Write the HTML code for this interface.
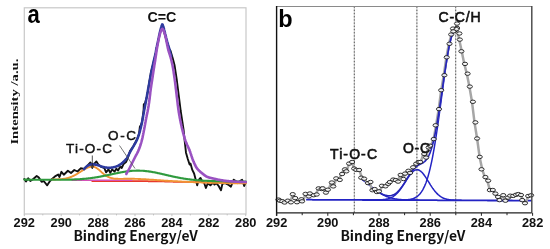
<!DOCTYPE html>
<html><head><meta charset="utf-8"><style>
html,body{margin:0;padding:0;background:#fff;width:550px;height:249px;overflow:hidden}
svg{display:block}
</style></head><body>
<svg width="550" height="249" viewBox="0 0 550 249">
<rect width="550" height="249" fill="#fff"/>
<rect x="24.3" y="7.8" width="221.7" height="206.2" fill="none" stroke="#c8c8c8" stroke-width="1.2"/>
<g stroke="#c0c0c0" stroke-width="1"><line x1="24.3" y1="214.0" x2="24.3" y2="216.2"/><line x1="42.8" y1="214.0" x2="42.8" y2="215.4"/><line x1="61.2" y1="214.0" x2="61.2" y2="216.2"/><line x1="79.6" y1="214.0" x2="79.6" y2="215.4"/><line x1="98.1" y1="214.0" x2="98.1" y2="216.2"/><line x1="116.5" y1="214.0" x2="116.5" y2="215.4"/><line x1="135.0" y1="214.0" x2="135.0" y2="216.2"/><line x1="153.5" y1="214.0" x2="153.5" y2="215.4"/><line x1="171.9" y1="214.0" x2="171.9" y2="216.2"/><line x1="190.3" y1="214.0" x2="190.3" y2="215.4"/><line x1="208.8" y1="214.0" x2="208.8" y2="216.2"/><line x1="227.2" y1="214.0" x2="227.2" y2="215.4"/><line x1="245.7" y1="214.0" x2="245.7" y2="216.2"/></g>
<g fill="none" stroke-linejoin="round" stroke-linecap="round">
<path d="M24.3,179.0 L26.0,181.5 L28.2,178.3 L30.3,181.0 L32.4,179.7 L36.7,176.0 L38.8,177.6 L41.6,181.8 L43.7,181.0 L47.2,185.3 L50.0,181.0 L52.1,179.0 L55.0,176.4 L58.2,174.5 L59.5,177.0 L61.4,171.8 L63.8,174.7 L67.9,170.7 L71.0,173.0 L74.3,170.0 L77.5,171.5 L80.7,168.3 L84.0,169.0 L87.2,165.9 L90.4,162.5 L92.3,165.5 L94.6,163.3 L96.4,161.4 L98.3,164.5 L101.3,166.9 L104.3,168.0 L106.1,172.3 L108.5,169.3 L110.3,172.9 L112.1,169.3 L114.5,171.7 L116.3,168.7 L118.1,170.5 L120.0,166.9 L121.7,168.0 L123.6,163.9 L126.0,162.0 L128.0,157.5 L130.0,151.0 L133.5,146.0 L136.9,139.5 L139.1,133.5 L139.9,126.5 L141.0,125.0 L142.1,121.5 L143.6,110.0 L143.8,104.5 L145.0,103.2 L146.1,99.5 L147.1,95.5 L149.1,83.5 L151.1,71.5 L153.5,62.5 L155.4,55.0 L156.6,48.0 L158.2,41.0 L159.5,35.0 L160.8,30.0 L162.2,27.0 L163.6,30.5 L165.2,35.8 L166.8,42.0 L168.8,48.5 L170.4,50.5 L172.8,58.5 L174.5,65.0 L176.8,80.0 L178.7,95.0 L180.7,111.0 L182.3,121.5 L183.6,130.0 L184.8,142.0 L186.0,152.7 L187.8,159.0 L189.6,164.5 L190.5,163.6 L192.3,169.9 L194.1,173.5 L196.0,180.7 L197.2,185.3 L198.7,179.8 L200.5,178.0 L202.3,181.6 L204.0,182.5 L205.9,188.0 L207.7,183.5 L210.4,185.3 L213.1,182.5 L214.5,184.6 L216.1,183.2 L218.2,185.3 L221.0,190.2 L222.4,183.9 L225.2,183.2 L228.1,184.6 L230.9,186.7 L233.7,179.7 L235.8,181.1 L237.9,183.2 L240.0,181.1 L242.1,179.7 L244.2,186.0 L245.6,182.5" stroke="#111" stroke-width="1.9"/>
<path d="M92.3,181.2 L92.8,181.2 L93.3,181.2 L93.8,181.2 L94.3,181.2 L94.8,181.2 L95.3,181.2 L95.8,181.2 L96.3,181.2 L96.8,181.2 L97.3,181.2 L97.8,181.2 L98.3,181.2 L98.8,181.2 L99.3,181.2 L99.8,181.2 L100.3,181.2 L100.8,181.2 L101.3,181.2 L101.8,181.2 L102.3,181.2 L102.8,181.2 L103.3,181.2 L103.8,181.2 L104.3,181.2 L104.8,181.2 L105.3,181.2 L105.8,181.2 L106.3,181.2 L106.8,181.2 L107.3,181.2 L107.8,181.2 L108.3,181.2 L108.8,181.2 L109.3,181.2 L109.8,181.2 L110.3,181.2 L110.8,181.2 L111.3,181.2 L111.8,181.2 L112.3,181.2 L112.8,181.2 L113.3,181.2 L113.8,181.2 L114.3,181.2 L114.8,181.2 L115.3,181.2 L115.8,181.2 L116.3,181.2 L116.8,181.2 L117.3,181.2 L117.8,181.2 L118.3,181.2 L118.8,181.2 L119.3,181.2 L119.8,181.2 L120.3,181.2 L120.8,181.2 L121.3,181.2 L121.8,181.2 L122.3,181.2 L122.8,181.2 L123.3,181.2 L123.8,181.2 L124.3,181.2 L124.8,181.2 L125.3,181.2 L125.8,181.2 L126.3,181.2 L126.8,181.2 L127.3,181.2 L127.8,181.2 L128.3,181.2 L128.8,181.2 L129.3,181.2 L129.8,181.2 L130.3,181.2 L130.8,181.2 L131.3,181.2 L131.8,181.2 L132.3,181.2 L132.8,181.2 L133.3,181.2 L133.8,181.2 L134.3,181.2 L134.8,181.2 L135.3,181.2 L135.8,181.2 L136.3,181.2 L136.8,181.2 L137.3,181.2 L137.8,181.2 L138.3,181.2 L138.8,181.2 L139.3,181.2 L139.8,181.2 L140.3,181.2 L140.8,181.2 L141.3,181.2 L141.8,181.2 L142.3,181.2 L142.8,181.2 L143.3,181.2 L143.8,181.2 L144.3,181.2 L144.8,181.2 L145.3,181.2 L145.8,181.2 L146.3,181.2 L146.8,181.2 L147.3,181.2 L147.8,181.2 L148.3,181.3 L148.8,181.3 L149.3,181.3 L149.8,181.3 L150.3,181.3 L150.8,181.3 L151.3,181.3 L151.8,181.3 L152.3,181.3 L152.8,181.3 L153.3,181.3 L153.8,181.3 L154.3,181.3 L154.8,181.3 L155.3,181.4 L155.8,181.4 L156.3,181.4 L156.8,181.4 L157.3,181.4 L157.8,181.4 L158.3,181.4 L158.8,181.4 L159.3,181.4 L159.8,181.4 L160.3,181.5 L160.8,181.5 L161.3,181.5 L161.8,181.5 L162.3,181.5 L162.8,181.5 L163.3,181.5 L163.8,181.5 L164.3,181.5 L164.8,181.6 L165.3,181.6 L165.8,181.6 L166.3,181.6 L166.8,181.6 L167.3,181.6 L167.8,181.6 L168.3,181.6 L168.8,181.7 L169.3,181.7 L169.8,181.7 L170.3,181.7 L170.8,181.7 L171.3,181.7 L171.8,181.7 L172.3,181.7 L172.8,181.7 L173.3,181.8 L173.8,181.8 L174.3,181.8 L174.8,181.8 L175.3,181.8 L175.8,181.8 L176.3,181.8 L176.8,181.8 L177.3,181.8 L177.8,181.9 L178.3,181.9 L178.8,181.9 L179.3,181.9 L179.8,181.9 L180.3,181.9 L180.8,181.9 L181.3,181.9 L181.8,181.9 L182.3,181.9 L182.8,182.0 L183.3,182.0 L183.8,182.0 L184.3,182.0 L184.8,182.0 L185.3,182.0 L185.8,182.0 L186.3,182.0 L186.8,182.0 L187.3,182.0 L187.8,182.0 L188.3,182.0 L188.8,182.0 L189.3,182.1 L189.8,182.1 L190.3,182.1 L190.8,182.1 L191.3,182.1 L191.8,182.1 L192.3,182.1 L192.8,182.1 L193.3,182.1 L193.8,182.1 L194.3,182.1 L194.8,182.1 L195.3,182.1 L195.8,182.2 L196.3,182.2 L196.8,182.2 L197.3,182.2 L197.8,182.2 L198.3,182.2 L198.8,182.2 L199.3,182.2 L199.8,182.2 L200.3,182.2 L200.8,182.2 L201.3,182.2 L201.8,182.2 L202.3,182.2 L202.8,182.3 L203.3,182.3 L203.8,182.3 L204.3,182.3 L204.8,182.3 L205.3,182.3 L205.8,182.3 L206.3,182.3 L206.8,182.3 L207.3,182.3 L207.8,182.3 L208.3,182.3 L208.8,182.3 L209.3,182.3 L209.8,182.4 L210.3,182.4 L210.8,182.4 L211.3,182.4 L211.8,182.4 L212.3,182.4 L212.8,182.4 L213.3,182.4 L213.8,182.4 L214.3,182.4 L214.8,182.4 L215.3,182.4 L215.8,182.4 L216.3,182.4 L216.8,182.4 L217.3,182.5 L217.8,182.5 L218.3,182.5 L218.8,182.5 L219.3,182.5 L219.8,182.5 L220.3,182.5 L220.8,182.5 L221.3,182.5 L221.8,182.5 L222.3,182.5 L222.8,182.5 L223.3,182.5 L223.8,182.5 L224.3,182.5 L224.8,182.6 L225.3,182.6 L225.8,182.6 L226.3,182.6 L226.8,182.6 L227.3,182.6 L227.8,182.6 L228.3,182.6 L228.8,182.6 L229.3,182.6 L229.8,182.6 L230.3,182.6 L230.8,182.6 L231.3,182.6 L231.8,182.6 L232.3,182.6 L232.8,182.6 L233.3,182.7 L233.8,182.7 L234.3,182.7 L234.8,182.7 L235.3,182.7 L235.8,182.7 L236.3,182.7 L236.8,182.7 L237.3,182.7 L237.8,182.7 L238.3,182.7 L238.8,182.7 L239.3,182.7 L239.8,182.7 L240.3,182.7 L240.8,182.7 L241.3,182.7 L241.8,182.8 L242.3,182.8 L242.8,182.8 L243.3,182.8 L243.8,182.8 L244.3,182.8 L244.8,182.8 L245.3,182.8 L245.8,182.8" stroke="#e8392b" stroke-width="1.7"/>
<path d="M72.3,180.2 L72.8,180.2 L73.3,180.2 L73.8,180.2 L74.3,180.2 L74.8,180.2 L75.3,180.2 L75.8,180.2 L76.3,180.2 L76.8,180.2 L77.3,180.2 L77.8,180.2 L78.3,180.2 L78.8,180.2 L79.3,180.2 L79.8,180.3 L80.3,180.3 L80.8,180.3 L81.3,180.3 L81.8,180.3 L82.3,180.3 L82.8,180.3 L83.3,180.3 L83.8,180.3 L84.3,180.3 L84.8,180.3 L85.3,180.3 L85.8,180.3 L86.3,180.3 L86.8,180.3 L87.3,180.3 L87.8,180.3 L88.3,180.3 L88.8,180.3 L89.3,180.3 L89.8,180.3 L90.3,180.3 L90.8,180.3 L91.3,180.3 L91.8,180.3 L92.3,180.3 L92.8,180.3 L93.3,180.3 L93.8,180.3 L94.3,180.3 L94.8,180.3 L95.3,180.3 L95.8,180.3 L96.3,180.3 L96.8,180.3 L97.3,180.3 L97.8,180.3 L98.3,180.3 L98.8,180.3 L99.3,180.3 L99.8,180.3 L100.3,180.3 L100.8,180.3 L101.3,180.3 L101.8,180.3 L102.3,180.3 L102.8,180.3 L103.3,180.3 L103.8,180.3 L104.3,180.3 L104.8,180.3 L105.3,180.3 L105.8,180.3 L106.3,180.3 L106.8,180.3 L107.3,180.3 L107.8,180.3 L108.3,180.3 L108.8,180.3 L109.3,180.3 L109.8,180.3 L110.3,180.3 L110.8,180.3 L111.3,180.3 L111.8,180.3 L112.3,180.3 L112.8,180.3 L113.3,180.3 L113.8,180.3 L114.3,180.3 L114.8,180.3 L115.3,180.3 L115.8,180.3 L116.3,180.3 L116.8,180.3 L117.3,180.3 L117.8,180.3 L118.3,180.3 L118.8,180.3 L119.3,180.3 L119.8,180.3 L120.3,180.3 L120.8,180.3 L121.3,180.3 L121.8,180.3 L122.3,180.3 L122.8,180.3 L123.3,180.3 L123.8,180.3 L124.3,180.3 L124.8,180.3 L125.3,180.3 L125.8,180.3 L126.3,180.3 L126.8,180.3 L127.3,180.3 L127.8,180.3 L128.3,180.3 L128.8,180.3 L129.3,180.3 L129.8,180.3 L130.3,180.3 L130.8,180.3 L131.3,180.3 L131.8,180.3" stroke="#d452b8" stroke-width="1.5"/>
<path d="M52.3,179.5 L52.8,179.5 L53.3,179.5 L53.8,179.5 L54.3,179.5 L54.8,179.5 L55.3,179.5 L55.8,179.4 L56.3,179.4 L56.8,179.4 L57.3,179.4 L57.8,179.4 L58.3,179.3 L58.8,179.3 L59.3,179.3 L59.8,179.2 L60.3,179.2 L60.8,179.2 L61.3,179.1 L61.8,179.1 L62.3,179.0 L62.8,178.9 L63.3,178.9 L63.8,178.8 L64.3,178.7 L64.8,178.7 L65.3,178.6 L65.8,178.5 L66.3,178.4 L66.8,178.2 L67.3,178.1 L67.8,178.0 L68.3,177.9 L68.8,177.7 L69.3,177.6 L69.8,177.4 L70.3,177.2 L70.8,177.0 L71.3,176.8 L71.8,176.6 L72.3,176.4 L72.8,176.2 L73.3,176.0 L73.8,175.7 L74.3,175.5 L74.8,175.2 L75.3,174.9 L75.8,174.6 L76.3,174.4 L76.8,174.1 L77.3,173.8 L77.8,173.5 L78.3,173.1 L78.8,172.8 L79.3,172.5 L79.8,172.2 L80.3,171.9 L80.8,171.5 L81.3,171.2 L81.8,170.9 L82.3,170.6 L82.8,170.2 L83.3,169.9 L83.8,169.6 L84.3,169.3 L84.8,169.1 L85.3,168.8 L85.8,168.5 L86.3,168.3 L86.8,168.0 L87.3,167.8 L87.8,167.6 L88.3,167.4 L88.8,167.2 L89.3,167.1 L89.8,167.0 L90.3,166.9 L90.8,166.8 L91.3,166.7 L91.8,166.7 L92.3,166.6 L92.8,166.6 L93.3,166.7 L93.8,166.8 L94.3,166.9 L94.8,167.1 L95.3,167.3 L95.8,167.6 L96.3,167.8 L96.8,168.2 L97.3,168.5 L97.8,168.9 L98.3,169.3 L98.8,169.7 L99.3,170.1 L99.8,170.5 L100.3,171.0 L100.8,171.4 L101.3,171.9 L101.8,172.4 L102.3,172.8 L102.8,173.2 L103.3,173.7 L103.8,174.1 L104.3,174.5 L104.8,174.8 L105.3,175.2 L105.8,175.6 L106.3,175.9 L106.8,176.2 L107.3,176.5 L107.8,176.7 L108.3,177.0 L108.8,177.2 L109.3,177.4 L109.8,177.6 L110.3,177.8 L110.8,177.9 L111.3,178.1 L111.8,178.2 L112.3,178.3 L112.8,178.4 L113.3,178.5 L113.8,178.6 L114.3,178.6 L114.8,178.7 L115.3,178.7 L115.8,178.8 L116.3,178.8 L116.8,178.8 L117.3,178.8 L117.8,178.8 L118.3,178.9 L118.8,178.9 L119.3,178.9 L119.8,178.9 L120.3,178.9 L120.8,178.9 L121.3,178.9 L121.8,178.9 L122.3,178.9 L122.8,178.9 L123.3,178.9 L123.8,178.8 L124.3,178.8 L124.8,178.8 L125.3,178.8 L125.8,178.8 L126.3,178.8 L126.8,178.8 L127.3,178.8 L127.8,178.8 L128.3,178.8 L128.8,178.8 L129.3,178.8 L129.8,178.8 L130.3,178.8 L130.8,178.8 L131.3,178.8 L131.8,178.8 L132.3,178.8 L132.8,178.8 L133.3,178.8 L133.8,178.8 L134.3,178.8 L134.8,178.9 L135.3,178.9 L135.8,178.9 L136.3,178.9 L136.8,178.9 L137.3,178.9 L137.8,178.9 L138.3,179.0 L138.8,179.0 L139.3,179.0 L139.8,179.0 L140.3,179.0 L140.8,179.1 L141.3,179.1 L141.8,179.1 L142.3,179.1 L142.8,179.2 L143.3,179.2 L143.8,179.2 L144.3,179.3 L144.8,179.3 L145.3,179.3 L145.8,179.3 L146.3,179.4 L146.8,179.4 L147.3,179.4 L147.8,179.5 L148.3,179.5 L148.8,179.5 L149.3,179.6 L149.8,179.6 L150.3,179.6 L150.8,179.7 L151.3,179.7 L151.8,179.7 L152.3,179.8 L152.8,179.8 L153.3,179.8 L153.8,179.9 L154.3,179.9 L154.8,179.9 L155.3,180.0 L155.8,180.0 L156.3,180.0 L156.8,180.1 L157.3,180.1 L157.8,180.2 L158.3,180.2 L158.8,180.2 L159.3,180.3 L159.8,180.3 L160.3,180.3 L160.8,180.4 L161.3,180.4 L161.8,180.4 L162.3,180.5 L162.8,180.5 L163.3,180.5 L163.8,180.6 L164.3,180.6 L164.8,180.6 L165.3,180.7 L165.8,180.7 L166.3,180.7 L166.8,180.8 L167.3,180.8 L167.8,180.8 L168.3,180.9 L168.8,180.9 L169.3,180.9 L169.8,180.9 L170.3,181.0 L170.8,181.0 L171.3,181.0 L171.8,181.0 L172.3,181.1 L172.8,181.1 L173.3,181.1 L173.8,181.1 L174.3,181.2 L174.8,181.2 L175.3,181.2 L175.8,181.3 L176.3,181.3 L176.8,181.3 L177.3,181.3 L177.8,181.4 L178.3,181.4 L178.8,181.4 L179.3,181.4 L179.8,181.5 L180.3,181.5 L180.8,181.5 L181.3,181.5 L181.8,181.6 L182.3,181.6 L182.8,181.6 L183.3,181.7 L183.8,181.7 L184.3,181.7 L184.8,181.7 L185.3,181.8 L185.8,181.8 L186.3,181.8 L186.8,181.8 L187.3,181.9 L187.8,181.9 L188.3,181.9 L188.8,181.9 L189.3,182.0 L189.8,182.0 L190.3,182.0 L190.8,182.0 L191.3,182.1 L191.8,182.1 L192.3,182.1 L192.8,182.1 L193.3,182.1 L193.8,182.2 L194.3,182.2 L194.8,182.2 L195.3,182.2 L195.8,182.3 L196.3,182.3 L196.8,182.3 L197.3,182.3 L197.8,182.3 L198.3,182.3 L198.8,182.4 L199.3,182.4 L199.8,182.4 L200.3,182.4 L200.8,182.4 L201.3,182.4 L201.8,182.5 L202.3,182.5 L202.8,182.5 L203.3,182.5 L203.8,182.5 L204.3,182.5 L204.8,182.5 L205.3,182.6 L205.8,182.6 L206.3,182.6 L206.8,182.6 L207.3,182.6 L207.8,182.6 L208.3,182.7 L208.8,182.7 L209.3,182.7 L209.8,182.7 L210.3,182.7 L210.8,182.7 L211.3,182.7 L211.8,182.8 L212.3,182.8 L212.8,182.8 L213.3,182.8 L213.8,182.8 L214.3,182.8 L214.8,182.8 L215.3,182.9 L215.8,182.9 L216.3,182.9 L216.8,182.9 L217.3,182.9 L217.8,182.9 L218.3,182.9 L218.8,182.9 L219.3,183.0 L219.8,183.0 L220.3,183.0 L220.8,183.0 L221.3,183.0 L221.8,183.0 L222.3,183.0 L222.8,183.0 L223.3,183.1 L223.8,183.1 L224.3,183.1 L224.8,183.1 L225.3,183.1 L225.8,183.1 L226.3,183.1 L226.8,183.1 L227.3,183.1 L227.8,183.2 L228.3,183.2 L228.8,183.2 L229.3,183.2 L229.8,183.2 L230.3,183.2 L230.8,183.2 L231.3,183.2 L231.8,183.2 L232.3,183.2 L232.8,183.2 L233.3,183.3 L233.8,183.3 L234.3,183.3 L234.8,183.3 L235.3,183.3 L235.8,183.3 L236.3,183.3 L236.8,183.3 L237.3,183.3 L237.8,183.3 L238.3,183.3 L238.8,183.3 L239.3,183.3 L239.8,183.3 L240.3,183.4 L240.8,183.4 L241.3,183.4 L241.8,183.4 L242.3,183.4 L242.8,183.4 L243.3,183.4 L243.8,183.4 L244.3,183.4 L244.8,183.4 L245.3,183.4 L245.8,183.4" stroke="#f19434" stroke-width="1.9"/>
<path d="M24.3,179.6 L24.8,179.6 L25.3,179.6 L25.8,179.6 L26.3,179.6 L26.8,179.6 L27.3,179.6 L27.8,179.6 L28.3,179.6 L28.8,179.6 L29.3,179.6 L29.8,179.6 L30.3,179.7 L30.8,179.7 L31.3,179.7 L31.8,179.7 L32.3,179.7 L32.8,179.7 L33.3,179.7 L33.8,179.7 L34.3,179.7 L34.8,179.7 L35.3,179.7 L35.8,179.7 L36.3,179.7 L36.8,179.7 L37.3,179.7 L37.8,179.7 L38.3,179.7 L38.8,179.7 L39.3,179.7 L39.8,179.7 L40.3,179.7 L40.8,179.7 L41.3,179.7 L41.8,179.7 L42.3,179.7 L42.8,179.8 L43.3,179.8 L43.8,179.8 L44.3,179.8 L44.8,179.8 L45.3,179.8 L45.8,179.8 L46.3,179.8 L46.8,179.8 L47.3,179.8 L47.8,179.8 L48.3,179.8 L48.8,179.8 L49.3,179.8 L49.8,179.8 L50.3,179.8 L50.8,179.8 L51.3,179.8 L51.8,179.8 L52.3,179.8 L52.8,179.8 L53.3,179.8 L53.8,179.8 L54.3,179.8 L54.8,179.8 L55.3,179.8 L55.8,179.8 L56.3,179.8 L56.8,179.8 L57.3,179.8 L57.8,179.8 L58.3,179.8 L58.8,179.8 L59.3,179.8 L59.8,179.8 L60.3,179.8 L60.8,179.8 L61.3,179.8 L61.8,179.8 L62.3,179.8 L62.8,179.8 L63.3,179.7 L63.8,179.7 L64.3,179.7 L64.8,179.7 L65.3,179.7 L65.8,179.7 L66.3,179.7 L66.8,179.7 L67.3,179.7 L67.8,179.7 L68.3,179.7 L68.8,179.6 L69.3,179.6 L69.8,179.6 L70.3,179.6 L70.8,179.6 L71.3,179.6 L71.8,179.6 L72.3,179.5 L72.8,179.5 L73.3,179.5 L73.8,179.5 L74.3,179.5 L74.8,179.4 L75.3,179.4 L75.8,179.4 L76.3,179.4 L76.8,179.3 L77.3,179.3 L77.8,179.3 L78.3,179.3 L78.8,179.2 L79.3,179.2 L79.8,179.2 L80.3,179.1 L80.8,179.1 L81.3,179.1 L81.8,179.0 L82.3,179.0 L82.8,178.9 L83.3,178.9 L83.8,178.9 L84.3,178.8 L84.8,178.8 L85.3,178.7 L85.8,178.7 L86.3,178.6 L86.8,178.6 L87.3,178.5 L87.8,178.5 L88.3,178.4 L88.8,178.3 L89.3,178.3 L89.8,178.2 L90.3,178.2 L90.8,178.1 L91.3,178.0 L91.8,178.0 L92.3,177.9 L92.8,177.8 L93.3,177.8 L93.8,177.7 L94.3,177.6 L94.8,177.5 L95.3,177.5 L95.8,177.4 L96.3,177.3 L96.8,177.2 L97.3,177.1 L97.8,177.1 L98.3,177.0 L98.8,176.9 L99.3,176.8 L99.8,176.7 L100.3,176.6 L100.8,176.5 L101.3,176.4 L101.8,176.3 L102.3,176.2 L102.8,176.1 L103.3,176.0 L103.8,175.9 L104.3,175.8 L104.8,175.7 L105.3,175.6 L105.8,175.5 L106.3,175.4 L106.8,175.3 L107.3,175.2 L107.8,175.1 L108.3,175.0 L108.8,174.9 L109.3,174.8 L109.8,174.7 L110.3,174.6 L110.8,174.5 L111.3,174.4 L111.8,174.3 L112.3,174.1 L112.8,174.0 L113.3,173.9 L113.8,173.8 L114.3,173.7 L114.8,173.6 L115.3,173.5 L115.8,173.4 L116.3,173.3 L116.8,173.2 L117.3,173.1 L117.8,173.0 L118.3,172.9 L118.8,172.8 L119.3,172.7 L119.8,172.6 L120.3,172.5 L120.8,172.4 L121.3,172.3 L121.8,172.2 L122.3,172.1 L122.8,172.0 L123.3,172.0 L123.8,171.9 L124.3,171.8 L124.8,171.7 L125.3,171.6 L125.8,171.6 L126.3,171.5 L126.8,171.4 L127.3,171.4 L127.8,171.3 L128.3,171.2 L128.8,171.2 L129.3,171.1 L129.8,171.1 L130.3,171.0 L130.8,171.0 L131.3,170.9 L131.8,170.9 L132.3,170.8 L132.8,170.8 L133.3,170.8 L133.8,170.7 L134.3,170.7 L134.8,170.7 L135.3,170.7 L135.8,170.7 L136.3,170.6 L136.8,170.6 L137.3,170.6 L137.8,170.6 L138.3,170.6 L138.8,170.6 L139.3,170.6 L139.8,170.7 L140.3,170.7 L140.8,170.7 L141.3,170.7 L141.8,170.7 L142.3,170.8 L142.8,170.8 L143.3,170.8 L143.8,170.9 L144.3,170.9 L144.8,171.0 L145.3,171.0 L145.8,171.1 L146.3,171.1 L146.8,171.2 L147.3,171.2 L147.8,171.3 L148.3,171.4 L148.8,171.4 L149.3,171.5 L149.8,171.6 L150.3,171.6 L150.8,171.7 L151.3,171.8 L151.8,171.9 L152.3,172.0 L152.8,172.1 L153.3,172.2 L153.8,172.3 L154.3,172.3 L154.8,172.4 L155.3,172.5 L155.8,172.6 L156.3,172.7 L156.8,172.8 L157.3,173.0 L157.8,173.1 L158.3,173.2 L158.8,173.3 L159.3,173.4 L159.8,173.5 L160.3,173.6 L160.8,173.7 L161.3,173.8 L161.8,173.9 L162.3,174.1 L162.8,174.2 L163.3,174.3 L163.8,174.4 L164.3,174.5 L164.8,174.6 L165.3,174.8 L165.8,174.9 L166.3,175.0 L166.8,175.1 L167.3,175.2 L167.8,175.3 L168.3,175.5 L168.8,175.6 L169.3,175.7 L169.8,175.8 L170.3,175.9 L170.8,176.0 L171.3,176.1 L171.8,176.3 L172.3,176.4 L172.8,176.5 L173.3,176.6 L173.8,176.7 L174.3,176.8 L174.8,176.9 L175.3,177.0 L175.8,177.1 L176.3,177.2 L176.8,177.3 L177.3,177.4 L177.8,177.5 L178.3,177.6 L178.8,177.7 L179.3,177.8 L179.8,177.9 L180.3,178.0 L180.8,178.1 L181.3,178.2 L181.8,178.3 L182.3,178.3 L182.8,178.4 L183.3,178.5 L183.8,178.6 L184.3,178.7 L184.8,178.7 L185.3,178.8 L185.8,178.9 L186.3,179.0 L186.8,179.0 L187.3,179.1 L187.8,179.2 L188.3,179.3 L188.8,179.3 L189.3,179.4 L189.8,179.4 L190.3,179.5 L190.8,179.6 L191.3,179.6 L191.8,179.7 L192.3,179.7 L192.8,179.8 L193.3,179.8 L193.8,179.9 L194.3,180.0 L194.8,180.0 L195.3,180.0 L195.8,180.1 L196.3,180.1 L196.8,180.2 L197.3,180.2 L197.8,180.3 L198.3,180.3 L198.8,180.3 L199.3,180.4 L199.8,180.4 L200.3,180.5 L200.8,180.5 L201.3,180.5 L201.8,180.6 L202.3,180.6 L202.8,180.6 L203.3,180.7 L203.8,180.7 L204.3,180.7 L204.8,180.7 L205.3,180.8 L205.8,180.8 L206.3,180.8 L206.8,180.8 L207.3,180.9 L207.8,180.9 L208.3,180.9 L208.8,180.9 L209.3,180.9 L209.8,181.0 L210.3,181.0 L210.8,181.0 L211.3,181.0 L211.8,181.0 L212.3,181.1 L212.8,181.1 L213.3,181.1 L213.8,181.1 L214.3,181.1 L214.8,181.1 L215.3,181.1 L215.8,181.2 L216.3,181.2 L216.8,181.2 L217.3,181.2 L217.8,181.2 L218.3,181.2 L218.8,181.2 L219.3,181.2 L219.8,181.3 L220.3,181.3 L220.8,181.3 L221.3,181.3 L221.8,181.3 L222.3,181.3 L222.8,181.3 L223.3,181.3 L223.8,181.3 L224.3,181.3 L224.8,181.3 L225.3,181.4 L225.8,181.4 L226.3,181.4 L226.8,181.4 L227.3,181.4 L227.8,181.4 L228.3,181.4 L228.8,181.4 L229.3,181.4 L229.8,181.4 L230.3,181.4 L230.8,181.4 L231.3,181.4 L231.8,181.4 L232.3,181.5 L232.8,181.5 L233.3,181.5 L233.8,181.5 L234.3,181.5 L234.8,181.5 L235.3,181.5 L235.8,181.5 L236.3,181.5 L236.8,181.5 L237.3,181.5 L237.8,181.5 L238.3,181.5 L238.8,181.5 L239.3,181.5 L239.8,181.5 L240.3,181.5 L240.8,181.5 L241.3,181.5 L241.8,181.6 L242.3,181.6 L242.8,181.6 L243.3,181.6 L243.8,181.6 L244.3,181.6 L244.8,181.6 L245.3,181.6 L245.8,181.6" stroke="#2f9a3e" stroke-width="2.1"/>
<path d="M84.0,169.2 L84.2,168.9 L84.5,168.6 L84.8,168.3 L85.0,168.1 L85.2,167.8 L85.5,167.5 L85.8,167.3 L86.0,167.1 L86.2,166.8 L86.5,166.6 L86.8,166.4 L87.0,166.2 L87.2,166.0 L87.5,165.9 L87.8,165.7 L88.0,165.6 L88.2,165.5 L88.5,165.4 L88.8,165.2 L89.0,165.1 L89.2,165.0 L89.5,164.9 L89.8,164.8 L90.0,164.7 L90.2,164.6 L90.5,164.5 L90.8,164.4 L91.0,164.4 L91.2,164.3 L91.5,164.3 L91.8,164.2 L92.0,164.2 L92.2,164.2 L92.5,164.2 L92.8,164.2 L93.0,164.2 L93.2,164.3 L93.5,164.3 L93.8,164.3 L94.0,164.4 L94.2,164.4 L94.5,164.5 L94.8,164.5 L95.0,164.6 L95.2,164.6 L95.5,164.7 L95.8,164.7 L96.0,164.8 L96.2,164.8 L96.5,164.9 L96.8,164.9 L97.0,165.0 L97.2,165.1 L97.5,165.1 L97.8,165.2 L98.0,165.3 L98.2,165.3 L98.5,165.4 L98.8,165.5 L99.0,165.6 L99.2,165.7 L99.5,165.8 L99.8,165.9 L100.0,166.0 L100.2,166.1 L100.5,166.1 L100.8,166.2 L101.0,166.3 L101.2,166.4 L101.5,166.5 L101.8,166.6 L102.0,166.6 L102.2,166.7 L102.5,166.8 L102.8,166.8 L103.0,166.9 L103.2,167.0 L103.5,167.0 L103.8,167.1 L104.0,167.1 L104.2,167.2 L104.5,167.2 L104.8,167.3 L105.0,167.3 L105.2,167.4 L105.5,167.4 L105.8,167.5 L106.0,167.5 L106.2,167.5 L106.5,167.6 L106.8,167.6 L107.0,167.7 L107.2,167.7 L107.5,167.7 L107.8,167.7 L108.0,167.8 L108.2,167.8 L108.5,167.8 L108.8,167.8 L109.0,167.8 L109.2,167.8 L109.5,167.8 L109.8,167.8 L110.0,167.8 L110.2,167.7 L110.5,167.7 L110.8,167.7 L111.0,167.7 L111.2,167.6 L111.5,167.6 L111.8,167.6 L112.0,167.5 L112.2,167.5 L112.5,167.4 L112.8,167.4 L113.0,167.3 L113.2,167.3 L113.5,167.2 L113.8,167.2 L114.0,167.1 L114.2,167.1 L114.5,167.0 L114.8,167.0 L115.0,166.9 L115.2,166.8 L115.5,166.8 L115.8,166.7 L116.0,166.6 L116.2,166.5 L116.5,166.4 L116.8,166.3 L117.0,166.2 L117.2,166.1 L117.5,166.0 L117.8,165.9 L118.0,165.8 L118.2,165.6 L118.5,165.5 L118.8,165.3 L119.0,165.2 L119.2,165.1 L119.5,164.9 L119.8,164.8 L120.0,164.6 L120.2,164.4 L120.5,164.3 L120.8,164.1 L121.0,164.0 L121.2,163.8 L121.5,163.6 L121.8,163.4 L122.0,163.2 L122.2,163.0 L122.5,162.8 L122.8,162.6 L123.0,162.4 L123.2,162.1 L123.5,161.9 L123.8,161.6 L124.0,161.4 L124.2,161.1 L124.5,160.8 L124.8,160.6 L125.0,160.3 L125.2,160.0 L125.5,159.8 L125.8,159.5 L126.0,159.2 L126.2,158.9 L126.5,158.6 L126.8,158.2 L127.0,157.9 L127.2,157.5 L127.5,157.1 L127.8,156.7 L128.0,156.2 L128.2,155.7 L128.5,155.2 L128.8,154.7 L129.0,154.2 L129.2,153.7 L129.5,153.2 L129.8,152.7 L130.0,152.2 L130.2,151.7 L130.5,151.3 L130.8,150.8 L131.0,150.4 L131.2,150.0 L131.5,149.6 L131.8,149.1 L132.0,148.7 L132.2,148.3 L132.5,147.9 L132.8,147.5 L133.0,147.1 L133.2,146.6 L133.5,146.2 L133.8,145.8 L134.0,145.3 L134.2,144.9 L134.5,144.5 L134.8,144.1 L135.0,143.6 L135.2,143.2 L135.5,142.8 L135.8,142.3 L136.0,141.8 L136.2,141.4 L136.5,140.8 L136.8,140.3 L137.0,139.8 L137.2,139.2 L137.5,138.6 L137.8,138.0 L138.0,137.3 L138.2,136.6 L138.5,135.9 L138.8,135.2 L139.0,134.4 L139.2,133.6 L139.5,132.8 L139.8,131.9 L140.0,131.0 L140.2,130.0 L140.5,129.0 L140.8,128.0 L141.0,126.9 L141.2,125.9 L141.5,124.8 L141.8,123.6 L142.0,122.5 L142.2,121.3 L142.5,120.0 L142.8,118.6 L143.0,117.2 L143.2,115.8 L143.5,114.4 L143.8,112.9 L144.0,111.5 L144.2,110.2 L144.5,108.9 L144.8,107.6 L145.0,106.3 L145.2,105.0 L145.5,103.7 L145.8,102.4 L146.0,101.0 L146.2,99.7 L146.5,98.3 L146.8,96.8 L147.0,95.4 L147.2,94.0 L147.5,92.6 L147.8,91.2 L148.0,89.8 L148.2,88.5 L148.5,87.2 L148.8,85.9 L149.0,84.5 L149.2,83.2 L149.5,81.7 L149.8,80.3 L150.0,78.8 L150.2,77.4 L150.5,76.0 L150.8,74.7 L151.0,73.4 L151.2,72.2 L151.5,71.0 L151.8,69.8 L152.0,68.6 L152.2,67.5 L152.5,66.4 L152.8,65.3 L153.0,64.2 L153.2,63.1 L153.5,62.0 L153.8,60.9 L154.0,59.9 L154.2,58.9 L154.5,57.9 L154.8,56.9 L155.0,55.8 L155.2,54.7 L155.5,53.5 L155.8,52.2 L156.0,50.8 L156.2,49.4 L156.5,48.0 L156.8,46.8 L157.0,45.7 L157.2,44.6 L157.5,43.5 L157.8,42.3 L158.0,41.1 L158.2,40.0 L158.5,38.8 L158.8,37.5 L159.0,36.3 L159.2,35.2 L159.5,34.0 L159.8,32.9 L160.0,31.8 L160.2,30.8 L160.5,29.8 L160.8,28.9 L161.0,28.0 L161.2,27.1 L161.5,26.4 L161.8,25.5 L162.0,24.8 L162.2,24.4 L162.5,24.5 L162.8,25.0 L163.0,25.7 L163.2,26.5 L163.5,27.3 L163.8,28.1 L164.0,29.1 L164.2,30.0 L164.5,31.0 L164.8,32.0 L165.0,33.0 L165.2,34.0 L165.5,35.0 L165.8,36.0 L166.0,37.0 L166.2,38.0 L166.5,39.0 L166.8,40.0 L167.0,40.9 L167.2,41.9 L167.5,42.7 L167.8,43.6 L168.0,44.5 L168.2,45.4 L168.5,46.2 L168.8,47.0 L169.0,47.9 L169.2,48.7 L169.5,49.6 L169.8,50.6 L170.0,51.5 L170.2,52.5 L170.5,53.5 L170.8,54.6 L171.0,55.6 L171.2,56.7" stroke="#2d3a9e" stroke-width="2.5"/>
<path d="M126.3,174.0 L126.5,173.5 L126.8,173.0 L127.0,172.5 L127.3,172.1 L127.5,171.6 L127.8,171.2 L128.1,170.8 L128.3,170.4 L128.6,169.9 L128.8,169.5 L129.1,169.1 L129.3,168.6 L129.6,168.1 L129.8,167.6 L130.1,167.1 L130.3,166.6 L130.6,166.1 L130.8,165.6 L131.1,165.1 L131.3,164.6 L131.6,164.1 L131.8,163.6 L132.1,163.1 L132.3,162.6 L132.6,162.1 L132.8,161.6 L133.1,161.1 L133.3,160.6 L133.6,160.1 L133.8,159.6 L134.1,159.1 L134.3,158.6 L134.6,158.1 L134.8,157.6 L135.1,157.1 L135.3,156.6 L135.6,156.1 L135.8,155.6 L136.1,155.2 L136.3,154.7 L136.6,154.3 L136.8,153.8 L137.1,153.3 L137.3,152.9 L137.6,152.4 L137.8,151.9 L138.1,151.3 L138.3,150.8 L138.6,150.2 L138.8,149.6 L139.1,149.0 L139.3,148.3 L139.6,147.7 L139.8,147.0 L140.1,146.2 L140.3,145.5 L140.6,144.7 L140.8,143.9 L141.1,143.1 L141.3,142.2 L141.6,141.3 L141.8,140.4 L142.1,139.4 L142.3,138.4 L142.6,137.2 L142.8,136.0 L143.1,134.8 L143.3,133.5 L143.6,132.3 L143.8,131.0 L144.1,129.7 L144.3,128.4 L144.6,127.0 L144.8,125.7 L145.1,124.3 L145.3,122.9 L145.6,121.5 L145.8,120.1 L146.1,118.8 L146.3,117.5 L146.6,116.2 L146.8,115.0 L147.1,113.9 L147.3,112.7 L147.6,111.5 L147.8,110.2 L148.1,108.8 L148.3,107.4 L148.6,105.9 L148.8,104.2 L149.1,102.5 L149.3,100.7 L149.6,98.8 L149.8,96.8 L150.1,94.6 L150.3,92.4 L150.6,90.4 L150.8,88.6 L151.1,86.8 L151.3,85.2 L151.6,83.6 L151.8,82.0 L152.1,80.3 L152.3,78.7 L152.6,77.0 L152.8,75.3 L153.1,73.6 L153.3,72.0 L153.6,70.3 L153.8,68.7 L154.1,67.2 L154.3,65.6 L154.6,64.1 L154.8,62.5 L155.1,61.0 L155.3,59.3 L155.6,57.6 L155.8,55.9 L156.1,54.2 L156.3,52.4 L156.6,50.8 L156.8,49.3 L157.1,47.8 L157.3,46.3 L157.6,44.9 L157.8,43.5 L158.1,42.2 L158.3,41.0 L158.6,39.7 L158.8,38.5 L159.1,37.4 L159.3,36.3 L159.6,35.3 L159.8,34.4 L160.1,33.5 L160.3,32.7 L160.6,31.9 L160.8,31.2 L161.1,30.7 L161.3,30.2 L161.6,29.7 L161.8,29.2 L162.1,28.9 L162.3,28.8 L162.6,28.9 L162.8,29.2 L163.1,29.7 L163.3,30.2 L163.6,30.7 L163.8,31.2 L164.1,31.8 L164.3,32.5 L164.6,33.3 L164.8,34.1 L165.1,35.0 L165.3,35.9 L165.6,36.9 L165.8,38.1 L166.1,39.3 L166.3,40.5 L166.6,41.8 L166.8,43.0 L167.1,44.2 L167.3,45.5 L167.6,46.7 L167.8,47.9 L168.1,49.0 L168.3,50.0 L168.6,50.9 L168.8,51.7 L169.1,52.5 L169.3,53.3 L169.6,54.1 L169.8,54.8 L170.1,55.6 L170.3,56.4 L170.6,57.3 L170.8,58.2 L171.1,59.1 L171.3,60.1 L171.6,61.1 L171.8,62.2 L172.1,63.3 L172.3,64.5 L172.6,65.8 L172.8,67.1 L173.1,68.6 L173.3,70.1 L173.6,71.6 L173.8,73.3 L174.1,75.0 L174.3,76.7 L174.6,78.4 L174.8,80.2 L175.1,82.1 L175.3,84.1 L175.6,86.2 L175.8,88.3 L176.1,90.4 L176.3,92.5 L176.6,94.6 L176.8,96.6 L177.1,98.7 L177.3,100.9 L177.6,103.0 L177.8,105.0 L178.1,107.0 L178.3,108.9 L178.6,110.7 L178.8,112.3 L179.1,113.8 L179.3,115.2 L179.6,116.6 L179.8,118.0 L180.1,119.2 L180.3,120.5 L180.6,121.7 L180.8,123.0 L181.1,124.2 L181.3,125.3 L181.6,126.5 L181.8,127.6 L182.1,128.7 L182.3,129.7 L182.6,130.7 L182.8,131.7 L183.1,132.7 L183.3,133.6 L183.6,134.5 L183.8,135.5 L184.1,136.4 L184.3,137.2 L184.6,138.1 L184.8,138.9 L185.1,139.7 L185.3,140.4 L185.6,141.1 L185.8,141.8 L186.1,142.5 L186.3,143.1 L186.6,143.7 L186.8,144.2 L187.1,144.8 L187.3,145.3 L187.6,145.9 L187.8,146.4 L188.1,146.9 L188.3,147.5 L188.6,148.0 L188.8,148.6 L189.1,149.2 L189.3,149.8 L189.6,150.4 L189.8,151.0 L190.1,151.7 L190.3,152.4 L190.6,153.2 L190.8,153.9 L191.1,154.7 L191.3,155.4 L191.6,156.2 L191.8,157.0 L192.1,157.7 L192.3,158.4 L192.6,159.1 L192.8,159.8 L193.1,160.4 L193.3,161.0 L193.6,161.6 L193.8,162.2 L194.1,162.8 L194.3,163.4 L194.6,163.9 L194.8,164.5 L195.1,165.0 L195.3,165.5 L195.6,166.0 L195.8,166.5 L196.1,166.9 L196.3,167.4 L196.6,167.7 L196.8,168.1 L197.1,168.4 L197.3,168.8 L197.6,169.1 L197.8,169.4 L198.1,169.6 L198.3,169.9 L198.6,170.2 L198.8,170.5 L199.1,170.7 L199.3,170.9 L199.6,171.2 L199.8,171.4 L200.1,171.6 L200.3,171.9 L200.6,172.1 L200.8,172.3 L201.1,172.5 L201.3,172.7 L201.6,172.9 L201.8,173.1 L202.1,173.3 L202.3,173.5 L202.6,173.7 L202.8,173.9 L203.1,174.1 L203.3,174.3 L203.6,174.5 L203.8,174.7 L204.1,174.9 L204.3,175.1 L204.6,175.3 L204.8,175.4 L205.1,175.6 L205.3,175.8 L205.6,176.0 L205.8,176.1 L206.1,176.3 L206.3,176.4 L206.6,176.6 L206.8,176.7 L207.1,176.8 L207.3,176.9 L207.6,177.0 L207.8,177.1 L208.1,177.2 L208.3,177.3 L208.6,177.4 L208.8,177.5 L209.1,177.5 L209.3,177.6 L209.6,177.7 L209.8,177.8 L210.1,177.8 L210.3,177.9 L210.6,177.9 L210.8,178.0 L211.1,178.1 L211.3,178.1 L211.6,178.2 L211.8,178.2 L212.1,178.3 L212.3,178.3 L212.6,178.4 L212.8,178.4 L213.1,178.5 L213.3,178.5 L213.6,178.6 L213.8,178.7 L214.1,178.7 L214.3,178.8 L214.6,178.8 L214.8,178.9 L215.1,178.9 L215.3,179.0 L215.6,179.1 L215.8,179.1 L216.1,179.2 L216.3,179.2 L216.6,179.3 L216.8,179.4 L217.1,179.4 L217.3,179.5 L217.6,179.5 L217.8,179.6 L218.1,179.6 L218.3,179.7 L218.6,179.7 L218.8,179.8 L219.1,179.8 L219.3,179.9 L219.6,179.9 L219.8,180.0 L220.1,180.0 L220.3,180.1 L220.6,180.1 L220.8,180.1 L221.1,180.2 L221.3,180.2 L221.6,180.3 L221.8,180.3 L222.1,180.3 L222.3,180.4 L222.6,180.4 L222.8,180.5 L223.1,180.5 L223.3,180.5 L223.6,180.6 L223.8,180.6 L224.1,180.6 L224.3,180.7 L224.6,180.7 L224.8,180.8 L225.1,180.8 L225.3,180.8 L225.6,180.9 L225.8,180.9 L226.1,180.9 L226.3,180.9 L226.6,181.0 L226.8,181.0 L227.1,181.0 L227.3,181.0 L227.6,181.1 L227.8,181.1 L228.1,181.1 L228.3,181.1 L228.6,181.1 L228.8,181.2 L229.1,181.2 L229.3,181.2 L229.6,181.2 L229.8,181.2 L230.1,181.3 L230.3,181.3 L230.6,181.3 L230.8,181.3 L231.1,181.3 L231.3,181.4 L231.6,181.4 L231.8,181.4 L232.1,181.4 L232.3,181.4 L232.6,181.4 L232.8,181.5 L233.1,181.5 L233.3,181.5 L233.6,181.5 L233.8,181.5 L234.1,181.5 L234.3,181.6 L234.6,181.6 L234.8,181.6 L235.1,181.6 L235.3,181.6 L235.6,181.6 L235.8,181.7 L236.1,181.7 L236.3,181.7 L236.6,181.7 L236.8,181.7 L237.1,181.7 L237.3,181.7 L237.6,181.8 L237.8,181.8 L238.1,181.8 L238.3,181.8 L238.6,181.8 L238.8,181.8 L239.1,181.8 L239.3,181.8 L239.6,181.9 L239.8,181.9 L240.1,181.9 L240.3,181.9 L240.6,181.9 L240.8,181.9 L241.1,181.9 L241.3,181.9 L241.6,181.9 L241.8,181.9 L242.1,181.9 L242.3,181.9 L242.6,182.0 L242.8,182.0 L243.1,182.0 L243.3,182.0 L243.6,182.0 L243.8,182.0 L244.1,182.0 L244.3,182.0 L244.6,182.0 L244.8,182.0 L245.1,182.0 L245.3,182.0 L245.6,182.0 L245.8,182.0" stroke="#9a52c2" stroke-width="2.6"/>
</g>
<path d="M92.3,155.5 V168 M90.8,165.5 L92.3,169 L93.8,165.5" fill="none" stroke="#222" stroke-width="0.8"/>
<line x1="119.5" y1="145.5" x2="135" y2="168.5" stroke="#555" stroke-width="0.8"/>
<text x="147.4" y="22.1" font-family="'Liberation Sans', sans-serif" font-weight="700" font-size="15.3" textLength="29" lengthAdjust="spacingAndGlyphs" fill="#111">C=C</text>
<g font-family="'Liberation Sans', sans-serif" font-size="13.5" fill="#111" stroke="#111" stroke-width="0.45">
<text x="66" y="153.3" textLength="46" lengthAdjust="spacing">Ti-O-C</text>
<text x="108" y="140.4" textLength="28" lengthAdjust="spacing">O-C</text>
</g>
<text transform="translate(27.6,22.6) scale(0.9,1.03)" x="0" y="0" font-family="'Liberation Sans', sans-serif" font-weight="700" font-size="24.5" fill="#000">a</text>
<text transform="translate(18.1,101.6) rotate(-90)" text-anchor="middle" font-family="'Liberation Serif', serif" font-weight="700" font-size="11" fill="#111" textLength="86" lengthAdjust="spacingAndGlyphs">Intensity /a.u.</text>
<g font-family="'Liberation Sans', sans-serif" font-weight="700" font-size="12.8" fill="#111"><text x="24.3" y="227.2" text-anchor="middle">292</text><text x="61.2" y="227.2" text-anchor="middle">290</text><text x="98.1" y="227.2" text-anchor="middle">288</text><text x="135.0" y="227.2" text-anchor="middle">286</text><text x="171.9" y="227.2" text-anchor="middle">284</text><text x="208.8" y="227.2" text-anchor="middle">282</text><text x="245.7" y="227.2" text-anchor="middle">280</text></g>
<text x="73.4" y="241" font-family="'Noto Sans CJK SC', 'Liberation Sans', sans-serif" font-weight="700" font-size="14" fill="#111" textLength="124.4" lengthAdjust="spacingAndGlyphs">Binding Energy/eV</text>

<g stroke="#c4c4c4" stroke-width="1">
<line x1="354.3" y1="6.5" x2="354.3" y2="212.8"/>
<line x1="416.9" y1="6.5" x2="416.9" y2="212.8"/>
<line x1="455.7" y1="6.5" x2="455.7" y2="212.8"/>
</g>
<g stroke="#5a5a5a" stroke-width="1" stroke-dasharray="1.3,1.9">
<line x1="354.3" y1="6.5" x2="354.3" y2="212.8"/>
<line x1="416.9" y1="6.5" x2="416.9" y2="212.8"/>
<line x1="455.7" y1="6.5" x2="455.7" y2="212.8"/>
</g>
<path d="M306.1,199.7 L306.6,199.7 L307.1,199.7 L307.6,199.7 L308.1,199.7 L308.6,199.7 L309.1,199.7 L309.6,199.7 L310.1,199.7 L310.6,199.7 L311.1,199.7 L311.6,199.7 L312.1,199.7 L312.6,199.8 L313.1,199.8 L313.6,199.8 L314.1,199.8 L314.6,199.8 L315.1,199.8 L315.6,199.8 L316.1,199.8 L316.6,199.8 L317.1,199.8 L317.6,199.8 L318.1,199.8 L318.6,199.8 L319.1,199.8 L319.6,199.8 L320.1,199.8 L320.6,199.8 L321.1,199.8 L321.6,199.8 L322.1,199.8 L322.6,199.8 L323.1,199.8 L323.6,199.8 L324.1,199.8 L324.6,199.8 L325.1,199.8 L325.6,199.8 L326.1,199.8 L326.6,199.8 L327.1,199.8 L327.6,199.8 L328.1,199.8 L328.6,199.8 L329.1,199.8 L329.6,199.8 L330.1,199.8 L330.6,199.8 L331.1,199.8 L331.6,199.8 L332.1,199.8 L332.6,199.8 L333.1,199.8 L333.6,199.8 L334.1,199.8 L334.6,199.8 L335.1,199.8 L335.6,199.8 L336.1,199.8 L336.6,199.8 L337.1,199.8 L337.6,199.9 L338.1,199.9 L338.6,199.9 L339.1,199.9 L339.6,199.9 L340.1,199.9 L340.6,199.9 L341.1,199.9 L341.6,199.9 L342.1,199.9 L342.6,199.9 L343.1,199.9 L343.6,199.9 L344.1,199.9 L344.6,199.9 L345.1,199.9 L345.6,199.9 L346.1,199.9 L346.6,199.9 L347.1,199.9 L347.6,199.9 L348.1,199.9 L348.6,199.9 L349.1,199.9 L349.6,199.9 L350.1,199.9 L350.6,199.9 L351.1,199.9 L351.6,199.9 L352.1,199.9 L352.6,199.9 L353.1,199.9 L353.6,199.9 L354.1,199.9 L354.6,199.9 L355.1,199.9 L355.6,199.9 L356.1,199.9 L356.6,199.9 L357.1,199.9 L357.6,199.9 L358.1,199.9 L358.6,199.9 L359.1,199.9 L359.6,199.9 L360.1,199.9 L360.6,199.9 L361.1,199.9 L361.6,199.9 L362.1,199.9 L362.6,200.0 L363.1,200.0 L363.6,200.0 L364.1,200.0 L364.6,200.0 L365.1,200.0 L365.6,200.0 L366.1,200.0 L366.6,200.0 L367.1,200.0 L367.6,200.0 L368.1,200.0 L368.6,200.0 L369.1,200.0 L369.6,200.0 L370.1,200.0 L370.6,200.0 L371.1,200.0 L371.6,200.0 L372.1,200.0 L372.6,200.0 L373.1,200.0 L373.6,200.0 L374.1,200.0 L374.6,200.0 L375.1,200.0 L375.6,200.0 L376.1,200.0 L376.6,200.0 L377.1,200.0 L377.6,200.0 L378.1,200.0 L378.6,200.0 L379.1,200.0 L379.6,200.0 L380.1,200.0 L380.6,200.0 L381.1,200.0 L381.6,200.0 L382.1,200.0 L382.6,200.0 L383.1,200.0 L383.6,200.0 L384.1,200.0 L384.6,200.0 L385.1,200.0 L385.6,200.0 L386.1,200.0 L386.6,200.0 L387.1,200.0 L387.6,200.1 L388.1,200.1 L388.6,200.1 L389.1,200.1 L389.6,200.1 L390.1,200.1 L390.6,200.1 L391.1,200.1 L391.6,200.1 L392.1,200.1 L392.6,200.1 L393.1,200.1 L393.6,200.1 L394.1,200.1 L394.6,200.1 L395.1,200.1 L395.6,200.1 L396.1,200.1 L396.6,200.1 L397.1,200.1 L397.6,200.1 L398.1,200.1 L398.6,200.1 L399.1,200.1 L399.6,200.1 L400.1,200.1 L400.6,200.1 L401.1,200.1 L401.6,200.1 L402.1,200.1 L402.6,200.1 L403.1,200.1 L403.6,200.1 L404.1,200.1 L404.6,200.1 L405.1,200.1 L405.6,200.1 L406.1,200.1 L406.6,200.1 L407.1,200.1 L407.6,200.1 L408.1,200.1 L408.6,200.1 L409.1,200.1 L409.6,200.1 L410.1,200.1 L410.6,200.1 L411.1,200.1 L411.6,200.1 L412.1,200.1 L412.6,200.2 L413.1,200.2 L413.6,200.2 L414.1,200.2 L414.6,200.2 L415.1,200.2 L415.6,200.2 L416.1,200.2 L416.6,200.2 L417.1,200.2 L417.6,200.2 L418.1,200.2 L418.6,200.2 L419.1,200.2 L419.6,200.2 L420.1,200.2 L420.6,200.2 L421.1,200.2 L421.6,200.2 L422.1,200.2 L422.6,200.2 L423.1,200.2 L423.6,200.2 L424.1,200.2 L424.6,200.2 L425.1,200.2 L425.6,200.2 L426.1,200.2 L426.6,200.2 L427.1,200.2 L427.6,200.2 L428.1,200.2 L428.6,200.2 L429.1,200.2 L429.6,200.2 L430.1,200.2 L430.6,200.2 L431.1,200.2 L431.6,200.2 L432.1,200.2 L432.6,200.2 L433.1,200.2 L433.6,200.2 L434.1,200.2 L434.6,200.2 L435.1,200.2 L435.6,200.2 L436.1,200.2 L436.6,200.2 L437.1,200.2 L437.6,200.3 L438.1,200.3 L438.6,200.3 L439.1,200.3 L439.6,200.3 L440.1,200.3 L440.6,200.3 L441.1,200.3 L441.6,200.3 L442.1,200.3 L442.6,200.3 L443.1,200.3 L443.6,200.3 L444.1,200.3 L444.6,200.3 L445.1,200.3 L445.6,200.3 L446.1,200.3 L446.6,200.3 L447.1,200.3 L447.6,200.3 L448.1,200.3 L448.6,200.3 L449.1,200.3 L449.6,200.3 L450.1,200.3 L450.6,200.3 L451.1,200.3 L451.6,200.3 L452.1,200.3 L452.6,200.3 L453.1,200.3 L453.6,200.3 L454.1,200.3 L454.6,200.3 L455.1,200.3 L455.6,200.3 L456.1,200.3 L456.6,200.3 L457.1,200.3 L457.6,200.3 L458.1,200.3 L458.6,200.3 L459.1,200.3 L459.6,200.3 L460.1,200.3 L460.6,200.3 L461.1,200.3 L461.6,200.3 L462.1,200.3 L462.6,200.4 L463.1,200.4 L463.6,200.4 L464.1,200.4 L464.6,200.4 L465.1,200.4 L465.6,200.4 L466.1,200.4 L466.6,200.4 L467.1,200.4 L467.6,200.4 L468.1,200.4 L468.6,200.4 L469.1,200.4 L469.6,200.4 L470.1,200.4 L470.6,200.4 L471.1,200.4 L471.6,200.4 L472.1,200.4 L472.6,200.4 L473.1,200.4 L473.6,200.4 L474.1,200.4 L474.6,200.4 L475.1,200.4 L475.6,200.4 L476.1,200.4 L476.6,200.4 L477.1,200.4 L477.6,200.4 L478.1,200.4 L478.6,200.4 L479.1,200.4 L479.6,200.4 L480.1,200.4 L480.6,200.4 L481.1,200.4 L481.6,200.4 L482.1,200.4 L482.6,200.4 L483.1,200.4 L483.6,200.4 L484.1,200.4 L484.6,200.4 L485.1,200.4 L485.6,200.4 L486.1,200.4 L486.6,200.4 L487.1,200.4 L487.6,200.5 L488.1,200.5 L488.6,200.5 L489.1,200.5 L489.6,200.5 L490.1,200.5 L490.6,200.5 L491.1,200.5 L491.6,200.5 L492.1,200.5 L492.6,200.5 L493.1,200.5 L493.6,200.5 L494.1,200.5 L494.6,200.5 L495.1,200.5 L495.6,200.5 L496.1,200.5 L496.6,200.5 L497.1,200.5 L497.6,200.5 L498.1,200.5 L498.6,200.5 L499.1,200.5 L499.6,200.5 L500.1,200.5 L500.6,200.5 L501.1,200.5 L501.6,200.5 L502.1,200.5 L502.6,200.5 L503.1,200.5 L503.6,200.5 L504.1,200.5 L504.6,200.5 L505.1,200.5 L505.6,200.5 L506.1,200.5 L506.6,200.5 L507.1,200.5 L507.6,200.5 L508.1,200.5 L508.6,200.5 L509.1,200.5 L509.6,200.5 L510.1,200.5 L510.6,200.5 L511.1,200.5 L511.6,200.5 L512.1,200.5 L512.6,200.6 L513.1,200.6 L513.6,200.6 L514.1,200.6 L514.6,200.6 L515.1,200.6 L515.6,200.6 L516.1,200.6 L516.6,200.6 L517.1,200.6 L517.6,200.6 L518.1,200.6 L518.6,200.6 L519.1,200.6 L519.6,200.6 L520.1,200.6 L520.6,200.6 L521.1,200.6 L521.6,200.6 L522.1,200.6 L522.6,200.6 L523.1,200.6 L523.6,200.6 L524.1,200.6 L524.6,200.6 L525.1,200.6 L525.6,200.6 L526.1,200.6 L526.6,200.6 L527.1,200.6 L527.6,200.6 L528.1,200.6 L528.6,200.6 L529.1,200.6 L529.6,200.6 L530.1,200.6 L530.6,200.6 L531.1,200.6 L531.6,200.6" fill="none" stroke="#2323c4" stroke-width="1.8"/>
<g fill="none" stroke="#2323c4" stroke-width="1.5">
<path d="M376.1,199.9 L376.6,199.9 L377.1,199.9 L377.6,199.9 L378.1,199.9 L378.6,199.9 L379.1,199.9 L379.6,199.9 L380.1,199.8 L380.6,199.8 L381.1,199.8 L381.6,199.8 L382.1,199.7 L382.6,199.7 L383.1,199.6 L383.6,199.6 L384.1,199.5 L384.6,199.5 L385.1,199.4 L385.6,199.3 L386.1,199.2 L386.6,199.1 L387.1,199.0 L387.6,198.9 L388.1,198.8 L388.6,198.6 L389.1,198.4 L389.6,198.3 L390.1,198.1 L390.6,197.9 L391.1,197.6 L391.6,197.4 L392.1,197.1 L392.6,196.9 L393.1,196.6 L393.6,196.2 L394.1,195.9 L394.6,195.5 L395.1,195.1 L395.6,194.7 L396.1,194.2 L396.6,193.8 L397.1,193.3 L397.6,192.7 L398.1,192.2 L398.6,191.6 L399.1,191.0 L399.6,190.4 L400.1,189.7 L400.6,189.1 L401.1,188.4 L401.6,187.7 L402.1,186.9 L402.6,186.2 L403.1,185.4 L403.6,184.6 L404.1,183.9 L404.6,183.1 L405.1,182.3 L405.6,181.5 L406.1,180.7 L406.6,179.9 L407.1,179.1 L407.6,178.3 L408.1,177.5 L408.6,176.8 L409.1,176.0 L409.6,175.3 L410.1,174.7 L410.6,174.0 L411.1,173.4 L411.6,172.8 L412.1,172.3 L412.6,171.8 L413.1,171.4 L413.6,171.0 L414.1,170.6 L414.6,170.3 L415.1,170.1 L415.6,169.9 L416.1,169.8 L416.6,169.7 L417.1,169.7 L417.6,169.7 L418.1,169.8 L418.6,170.0 L419.1,170.2 L419.6,170.4 L420.1,170.8 L420.6,171.1 L421.1,171.6 L421.6,172.0 L422.1,172.5 L422.6,173.1 L423.1,173.7 L423.6,174.3 L424.1,175.0 L424.6,175.7 L425.1,176.4 L425.6,177.1 L426.1,177.9 L426.6,178.7 L427.1,179.5 L427.6,180.3 L428.1,181.1 L428.6,181.9 L429.1,182.7 L429.6,183.5 L430.1,184.3 L430.6,185.1 L431.1,185.8 L431.6,186.6 L432.1,187.3 L432.6,188.1 L433.1,188.8 L433.6,189.5 L434.1,190.1 L434.6,190.8 L435.1,191.4 L435.6,192.0 L436.1,192.6 L436.6,193.1 L437.1,193.6 L437.6,194.1 L438.1,194.6 L438.6,195.0 L439.1,195.4 L439.6,195.8 L440.1,196.2 L440.6,196.5 L441.1,196.9 L441.6,197.2 L442.1,197.5 L442.6,197.7 L443.1,198.0 L443.6,198.2 L444.1,198.4 L444.6,198.6 L445.1,198.7 L445.6,198.9 L446.1,199.0 L446.6,199.2 L447.1,199.3 L447.6,199.4 L448.1,199.5 L448.6,199.6 L449.1,199.7 L449.6,199.7 L450.1,199.8 L450.6,199.9 L451.1,199.9 L451.6,200.0 L452.1,200.0 L452.6,200.1 L453.1,200.1 L453.6,200.1 L454.1,200.1 L454.6,200.2 L455.1,200.2 L455.6,200.2 L456.1,200.2 L456.6,200.2 L457.1,200.3 L457.6,200.3 L458.1,200.3 L458.6,200.3 L459.1,200.3 L459.6,200.3 L460.1,200.3 L460.6,200.3 L461.1,200.3 L461.6,200.3"/>
<path d="M362.1,179.7 L362.6,180.0 L363.1,180.3 L363.6,180.7 L364.1,181.0 L364.6,181.4 L365.1,181.7 L365.6,182.1 L366.1,182.5 L366.6,182.8 L367.1,183.2 L367.6,183.6 L368.1,184.0 L368.6,184.4 L369.1,184.8 L369.6,185.2 L370.1,185.6 L370.6,186.0 L371.1,186.4 L371.6,186.8 L372.1,187.3 L372.6,187.7 L373.1,188.1 L373.6,188.5 L374.1,188.8 L374.6,189.2 L375.1,189.6 L375.6,190.0 L376.1,190.4 L376.6,190.7 L377.1,191.1 L377.6,191.5 L378.1,191.8 L378.6,192.2 L379.1,192.5 L379.6,192.8 L380.1,193.1 L380.6,193.4 L381.1,193.7 L381.6,194.0 L382.1,194.3 L382.6,194.6 L383.1,194.9 L383.6,195.1 L384.1,195.4 L384.6,195.6 L385.1,195.8 L385.6,196.1 L386.1,196.3 L386.6,196.5 L387.1,196.7 L387.6,196.9 L388.1,197.0 L388.6,197.2 L389.1,197.4 L389.6,197.5 L390.1,197.7 L390.6,197.8 L391.1,198.0 L391.6,198.1 L392.1,198.2 L392.6,198.4 L393.1,198.5 L393.6,198.6 L394.1,198.7 L394.6,198.8 L395.1,198.9 L395.6,198.9 L396.1,199.0 L396.6,199.1 L397.1,199.2 L397.6,199.2 L398.1,199.3 L398.6,199.4 L399.1,199.4 L399.6,199.5 L400.1,199.5 L400.6,199.6 L401.1,199.6 L401.6,199.7 L402.1,199.7 L402.6,199.7 L403.1,199.8 L403.6,199.8 L404.1,199.8 L404.6,199.8 L405.1,199.9 L405.6,199.9 L406.1,199.9 L406.6,199.9 L407.1,200.0 L407.6,200.0 L408.1,200.0 L408.6,200.0 L409.1,200.0 L409.6,200.0 L410.1,200.0 L410.6,200.1 L411.1,200.1 L411.6,200.1 L412.1,200.1 L412.6,200.1 L413.1,200.1 L413.6,200.1 L414.1,200.1 L414.6,200.1 L415.1,200.1 L415.6,200.1 L416.1,200.1 L416.6,200.1 L417.1,200.1 L417.6,200.1 L418.1,200.2 L418.6,200.2 L419.1,200.2 L419.6,200.2"/>
<path d="M400.1,200.0 L400.6,200.0 L401.1,200.0 L401.6,200.0 L402.1,200.0 L402.6,200.0 L403.1,200.0 L403.6,200.0 L404.1,199.9 L404.6,199.9 L405.1,199.9 L405.6,199.9 L406.1,199.8 L406.6,199.8 L407.1,199.8 L407.6,199.7 L408.1,199.7 L408.6,199.6 L409.1,199.5 L409.6,199.4 L410.1,199.4 L410.6,199.3 L411.1,199.2 L411.6,199.0 L412.1,198.9 L412.6,198.8 L413.1,198.6 L413.6,198.4 L414.1,198.2 L414.6,198.0 L415.1,197.8 L415.6,197.5 L416.1,197.2 L416.6,196.9 L417.1,196.6 L417.6,196.2 L418.1,195.8 L418.6,195.3 L419.1,194.8 L419.6,194.3 L420.1,193.7 L420.6,193.1 L421.1,192.4 L421.6,191.7 L422.1,190.9 L422.6,190.1 L423.1,189.2 L423.6,188.2 L424.1,187.2 L424.6,186.1 L425.1,184.9 L425.6,183.7 L426.1,182.4 L426.6,180.9 L427.1,179.4 L427.6,177.9 L428.1,176.2 L428.6,174.4 L429.1,172.6 L429.6,170.6 L430.1,168.6 L430.6,166.4 L431.1,164.2 L431.6,161.8 L432.1,159.4 L432.6,156.8 L433.1,154.2 L433.6,151.4 L434.1,148.6 L434.6,145.6 L435.1,142.6 L435.6,139.5 L436.1,136.3 L436.6,133.0 L437.1,129.7 L437.6,126.3 L438.1,122.8 L438.6,119.2 L439.1,115.6 L439.6,112.0 L440.1,108.3 L440.6,104.6 L441.1,100.9 L441.6,97.2 L442.1,93.4 L442.6,89.7 L443.1,86.0 L443.6,82.3 L444.1,78.7 L444.6,75.1 L445.1,71.6 L445.6,68.2 L446.1,64.8 L446.6,61.6 L447.1,58.4 L447.6,55.4 L448.1,52.5 L448.6,49.7 L449.1,47.1 L449.6,44.7 L450.1,42.4 L450.6,40.3 L451.1,38.4 L451.6,36.6 L452.1,35.1 L452.6,33.8 L453.1,32.7 L453.6,31.8 L454.1,31.1 L454.6,30.6 L455.1,30.4 L455.6,30.3"/>
</g>
<path d="M277.4,199.6 L280.0,200.7 L282.5,201.2 L285.1,202.5 L287.6,200.7 L290.2,202.3 L292.8,194.2 L295.3,198.1 L297.9,202.2 L300.4,199.3 L303.0,201.3 L305.6,193.9 L308.1,196.4 L310.7,193.5 L313.2,195.2 L315.8,194.5 L318.4,188.4 L320.9,189.0 L323.5,188.3 L326.0,192.6 L328.6,189.7 L331.2,182.5 L333.7,186.4 L336.3,178.4 L338.8,179.9 L341.4,174.0 L344.0,169.4 L346.5,171.3 L349.1,163.6 L351.6,162.0 L354.2,168.6 L356.8,169.9 L359.3,170.0 L361.9,177.7 L364.4,178.7 L367.0,183.1 L369.6,182.0 L372.1,190.2 L374.7,189.1 L377.2,192.0 L379.8,191.3 L382.4,185.8 L384.9,186.3 L387.5,183.8 L390.0,182.1 L392.6,179.6 L395.2,180.1 L397.7,181.6 L400.3,174.9 L402.8,179.0 L405.4,173.6 L408.0,170.8 L410.5,172.9 L413.1,167.3 L415.6,163.7 L418.2,162.1 L420.8,162.0 L423.3,153.9 L425.9,157.6 L428.4,147.4 L431.0,145.7 L433.6,139.1 L436.1,125.3 L438.7,109.1 L441.2,90.2 L443.8,75.2 L446.4,57.3 L448.9,43.8 L451.5,34.5 L454.0,30.8 L456.6,28.0 L459.2,39.6 L461.7,51.3 L464.3,63.9 L466.8,73.7 L469.4,86.6 L472.0,101.8 L474.5,122.4 L477.1,138.5 L479.6,156.9 L482.2,169.3 L484.8,177.1 L487.3,180.7 L489.9,190.1 L492.4,190.0 L495.0,193.6 L497.6,196.9 L500.1,200.1 L502.7,195.2 L505.2,200.7 L507.8,197.6 L510.4,195.7 L512.9,195.9 L515.5,194.8 L518.0,194.1 L520.6,195.0 L523.2,200.1 L525.7,203.2 L528.3,196.0 L530.8,195.3" fill="none" stroke="#a6a6a6" stroke-width="2.5" stroke-linejoin="round"/>
<path d="M380.1,192.9 L380.6,193.2 L381.1,193.5 L381.6,193.8 L382.1,194.0 L382.6,194.2 L383.1,194.5 L383.6,194.7 L384.1,194.9 L384.6,195.0 L385.1,195.2 L385.6,195.3 L386.1,195.4 L386.6,195.5 L387.1,195.6 L387.6,195.7 L388.1,195.7 L388.6,195.8 L389.1,195.8 L389.6,195.8 L390.1,195.7 L390.6,195.7 L391.1,195.6 L391.6,195.4 L392.1,195.3 L392.6,195.1 L393.1,194.9 L393.6,194.7 L394.1,194.5 L394.6,194.2 L395.1,193.9 L395.6,193.5 L396.1,193.2 L396.6,192.8 L397.1,192.3 L397.6,191.9 L398.1,191.4 L398.6,190.9 L399.1,190.3 L399.6,189.7 L400.1,189.1 L400.6,188.5 L401.1,187.8 L401.6,187.1 L402.1,186.4 L402.6,185.7 L403.1,184.9 L403.6,184.2 L404.1,183.4 L404.6,182.6 L405.1,181.8 L405.6,181.0 L406.1,180.2 L406.6,179.3 L407.1,178.5 L407.6,177.7 L408.1,176.9 L408.6,176.1 L409.1,175.3 L409.6,174.5 L410.1,173.8 L410.6,173.1 L411.1,172.3 L411.6,171.7 L412.1,171.0 L412.6,170.4 L413.1,169.8 L413.6,169.2 L414.1,168.6 L414.6,168.1 L415.1,167.6 L415.6,167.2 L416.1,166.8 L416.6,166.4 L417.1,166.0 L417.6,165.7 L418.1,165.4 L418.6,165.1 L419.1,164.8 L419.6,164.6 L420.1,164.3 L420.6,164.1 L421.1,163.8 L421.6,163.6 L422.1,163.3 L422.6,163.0 L423.1,162.7 L423.6,162.4 L424.1,162.0 L424.6,161.6 L425.1,161.1 L425.6,160.6 L426.1,160.1 L426.6,159.4 L427.1,158.7 L427.6,157.9 L428.1,157.0 L428.6,156.1 L429.1,155.0 L429.6,153.9 L430.1,152.6 L430.6,151.2 L431.1,149.8 L431.6,148.2 L432.1,146.5 L432.6,144.7 L433.1,142.7 L433.6,140.7 L434.1,138.5 L434.6,136.2 L435.1,133.8 L435.6,131.3 L436.1,128.6 L436.6,125.9 L437.1,123.1 L437.6,120.1 L438.1,117.1 L438.6,114.0 L439.1,110.8 L439.6,107.6 L440.1,104.3 L440.6,100.9 L441.1,97.5 L441.6,94.1 L442.1,90.6 L442.6,87.1 L443.1,83.7 L443.6,80.2 L444.1,76.8 L444.6,73.4 L445.1,70.1 L445.6,66.8 L446.1,63.6 L446.6,60.5 L447.1,57.4 L447.6,54.5 L448.1,51.7 L448.6,49.0 L449.1,46.5 L449.6,44.1 L450.1,41.9 L450.6,39.9 L451.1,38.0 L451.6,36.3 L452.1,34.8 L452.6,33.5 L453.1,32.4 L453.6,31.6 L454.1,30.9 L454.6,30.5 L455.1,30.2 L455.6,30.2" fill="none" stroke="#2525b8" stroke-width="1.6"/>
<g fill="#fff" fill-opacity="0.85" stroke="#1a1a1a" stroke-width="0.9"><ellipse cx="278.4" cy="199.6" rx="2.6" ry="1.7"/><ellipse cx="280.0" cy="200.7" rx="2.6" ry="1.7"/><ellipse cx="282.3" cy="201.2" rx="2.6" ry="1.7"/><ellipse cx="284.6" cy="202.5" rx="2.6" ry="1.7"/><ellipse cx="287.8" cy="200.7" rx="2.6" ry="1.7"/><ellipse cx="290.9" cy="202.3" rx="2.6" ry="1.7"/><ellipse cx="292.7" cy="194.2" rx="2.6" ry="1.7"/><ellipse cx="295.2" cy="198.1" rx="2.6" ry="1.7"/><ellipse cx="297.0" cy="202.2" rx="2.6" ry="1.7"/><ellipse cx="301.3" cy="199.3" rx="2.6" ry="1.7"/><ellipse cx="302.1" cy="201.3" rx="2.6" ry="1.7"/><ellipse cx="305.5" cy="193.9" rx="2.6" ry="1.7"/><ellipse cx="308.8" cy="196.4" rx="2.6" ry="1.7"/><ellipse cx="309.9" cy="193.5" rx="2.6" ry="1.7"/><ellipse cx="313.7" cy="195.2" rx="2.6" ry="1.7"/><ellipse cx="316.7" cy="194.5" rx="2.6" ry="1.7"/><ellipse cx="318.6" cy="188.4" rx="2.6" ry="1.7"/><ellipse cx="321.5" cy="189.0" rx="2.6" ry="1.7"/><ellipse cx="322.7" cy="188.3" rx="2.6" ry="1.7"/><ellipse cx="325.9" cy="192.6" rx="2.6" ry="1.7"/><ellipse cx="327.9" cy="189.7" rx="2.6" ry="1.7"/><ellipse cx="331.8" cy="182.5" rx="2.6" ry="1.7"/><ellipse cx="333.3" cy="186.4" rx="2.6" ry="1.7"/><ellipse cx="336.2" cy="178.4" rx="2.6" ry="1.7"/><ellipse cx="339.8" cy="179.9" rx="2.6" ry="1.7"/><ellipse cx="342.1" cy="174.0" rx="2.6" ry="1.7"/><ellipse cx="344.9" cy="169.4" rx="2.6" ry="1.7"/><ellipse cx="346.4" cy="171.3" rx="2.6" ry="1.7"/><ellipse cx="349.1" cy="163.6" rx="2.6" ry="1.7"/><ellipse cx="352.1" cy="162.0" rx="2.6" ry="1.7"/><ellipse cx="354.2" cy="168.6" rx="2.6" ry="1.7"/><ellipse cx="356.3" cy="169.9" rx="2.6" ry="1.7"/><ellipse cx="359.1" cy="170.0" rx="2.6" ry="1.7"/><ellipse cx="361.2" cy="177.7" rx="2.6" ry="1.7"/><ellipse cx="364.2" cy="178.7" rx="2.6" ry="1.7"/><ellipse cx="368.0" cy="183.1" rx="2.6" ry="1.7"/><ellipse cx="370.5" cy="182.0" rx="2.6" ry="1.7"/><ellipse cx="372.4" cy="190.2" rx="2.6" ry="1.7"/><ellipse cx="374.7" cy="189.1" rx="2.6" ry="1.7"/><ellipse cx="376.9" cy="192.0" rx="2.6" ry="1.7"/><ellipse cx="379.0" cy="191.3" rx="2.6" ry="1.7"/><ellipse cx="381.9" cy="185.8" rx="2.6" ry="1.7"/><ellipse cx="385.5" cy="186.3" rx="2.6" ry="1.7"/><ellipse cx="388.2" cy="183.8" rx="2.6" ry="1.7"/><ellipse cx="389.8" cy="182.1" rx="2.6" ry="1.7"/><ellipse cx="393.2" cy="179.6" rx="2.6" ry="1.7"/><ellipse cx="395.7" cy="180.1" rx="2.6" ry="1.7"/><ellipse cx="398.1" cy="181.6" rx="2.6" ry="1.7"/><ellipse cx="400.6" cy="174.9" rx="2.6" ry="1.7"/><ellipse cx="403.4" cy="179.0" rx="2.6" ry="1.7"/><ellipse cx="405.1" cy="173.6" rx="2.6" ry="1.7"/><ellipse cx="408.4" cy="170.8" rx="2.6" ry="1.7"/><ellipse cx="410.1" cy="172.9" rx="2.6" ry="1.7"/><ellipse cx="413.1" cy="167.3" rx="2.6" ry="1.7"/><ellipse cx="416.2" cy="163.7" rx="2.6" ry="1.7"/><ellipse cx="418.6" cy="162.1" rx="2.6" ry="1.7"/><ellipse cx="420.3" cy="162.0" rx="2.6" ry="1.7"/><ellipse cx="424.2" cy="153.9" rx="2.6" ry="1.7"/><ellipse cx="426.2" cy="157.6" rx="2.6" ry="1.7"/><ellipse cx="428.6" cy="147.4" rx="2.6" ry="1.7"/><ellipse cx="430.0" cy="145.7" rx="2.6" ry="1.7"/><ellipse cx="433.7" cy="139.1" rx="2.6" ry="1.7"/><ellipse cx="435.6" cy="125.3" rx="2.6" ry="1.7"/><ellipse cx="439.0" cy="109.1" rx="2.6" ry="1.7"/><ellipse cx="441.2" cy="90.2" rx="2.6" ry="1.7"/><ellipse cx="444.4" cy="75.2" rx="2.6" ry="1.7"/><ellipse cx="446.7" cy="57.3" rx="2.6" ry="1.7"/><ellipse cx="449.5" cy="43.8" rx="2.6" ry="1.7"/><ellipse cx="451.2" cy="34.5" rx="2.6" ry="1.7"/><ellipse cx="454.3" cy="30.8" rx="2.6" ry="1.7"/><ellipse cx="457.1" cy="28.0" rx="2.6" ry="1.7"/><ellipse cx="459.8" cy="39.6" rx="2.6" ry="1.7"/><ellipse cx="461.4" cy="51.3" rx="2.6" ry="1.7"/><ellipse cx="465.0" cy="63.9" rx="2.6" ry="1.7"/><ellipse cx="467.6" cy="73.7" rx="2.6" ry="1.7"/><ellipse cx="469.8" cy="86.6" rx="2.6" ry="1.7"/><ellipse cx="472.9" cy="101.8" rx="2.6" ry="1.7"/><ellipse cx="475.4" cy="122.4" rx="2.6" ry="1.7"/><ellipse cx="477.1" cy="138.5" rx="2.6" ry="1.7"/><ellipse cx="479.7" cy="156.9" rx="2.6" ry="1.7"/><ellipse cx="481.5" cy="169.3" rx="2.6" ry="1.7"/><ellipse cx="485.4" cy="177.1" rx="2.6" ry="1.7"/><ellipse cx="488.2" cy="180.7" rx="2.6" ry="1.7"/><ellipse cx="489.8" cy="190.1" rx="2.6" ry="1.7"/><ellipse cx="492.8" cy="190.0" rx="2.6" ry="1.7"/><ellipse cx="495.4" cy="193.6" rx="2.6" ry="1.7"/><ellipse cx="498.0" cy="196.9" rx="2.6" ry="1.7"/><ellipse cx="499.5" cy="200.1" rx="2.6" ry="1.7"/><ellipse cx="503.2" cy="195.2" rx="2.6" ry="1.7"/><ellipse cx="505.4" cy="200.7" rx="2.6" ry="1.7"/><ellipse cx="508.1" cy="197.6" rx="2.6" ry="1.7"/><ellipse cx="510.2" cy="195.7" rx="2.6" ry="1.7"/><ellipse cx="513.2" cy="195.9" rx="2.6" ry="1.7"/><ellipse cx="516.0" cy="194.8" rx="2.6" ry="1.7"/><ellipse cx="518.3" cy="194.1" rx="2.6" ry="1.7"/><ellipse cx="521.0" cy="195.0" rx="2.6" ry="1.7"/><ellipse cx="522.2" cy="200.1" rx="2.6" ry="1.7"/><ellipse cx="525.0" cy="203.2" rx="2.6" ry="1.7"/><ellipse cx="528.2" cy="196.0" rx="2.6" ry="1.7"/><ellipse cx="531.1" cy="195.3" rx="2.6" ry="1.7"/><ellipse cx="457.0" cy="23.6" rx="2.6" ry="1.7"/><ellipse cx="453.0" cy="28.6" rx="2.6" ry="1.7"/><ellipse cx="456.5" cy="29.2" rx="2.6" ry="1.7"/><ellipse cx="453.3" cy="31.4" rx="2.6" ry="1.7"/><ellipse cx="459.4" cy="33.5" rx="2.6" ry="1.7"/></g>
<line x1="276.6" y1="6.5" x2="531.8" y2="6.5" stroke="#8a8a8a" stroke-width="1"/>
<line x1="276.6" y1="6.0" x2="276.6" y2="215.8" stroke="#111" stroke-width="1.4"/>
<line x1="531.8" y1="6.0" x2="531.8" y2="212.8" stroke="#444" stroke-width="1.4"/>
<line x1="276.6" y1="212.8" x2="531.8" y2="212.8" stroke="#222" stroke-width="1.2"/>
<g stroke="#222" stroke-width="1"><line x1="276.6" y1="212.8" x2="276.6" y2="215.8"/><line x1="302.2" y1="212.8" x2="302.2" y2="215.2"/><line x1="327.8" y1="212.8" x2="327.8" y2="215.8"/><line x1="353.4" y1="212.8" x2="353.4" y2="215.2"/><line x1="379.0" y1="212.8" x2="379.0" y2="215.8"/><line x1="404.6" y1="212.8" x2="404.6" y2="215.2"/><line x1="430.2" y1="212.8" x2="430.2" y2="215.8"/><line x1="455.8" y1="212.8" x2="455.8" y2="215.2"/><line x1="481.4" y1="212.8" x2="481.4" y2="215.8"/><line x1="507.0" y1="212.8" x2="507.0" y2="215.2"/><line x1="532.6" y1="212.8" x2="532.6" y2="215.8"/></g>
<text transform="translate(278.2,26.6) scale(1.0,1)" font-family="'Liberation Sans', sans-serif" font-weight="700" font-size="23.5" fill="#000">b</text>
<g font-family="'Liberation Sans', sans-serif" font-size="14" fill="#111" stroke="#111" stroke-width="0.6">
<text x="438.5" y="22" textLength="42" lengthAdjust="spacing">C-C/H</text>
<text x="330" y="158.7" textLength="47" lengthAdjust="spacing">Ti-O-C</text>
<text x="403" y="152.6" textLength="27" lengthAdjust="spacing">O-C</text>
</g>
<g font-family="'Liberation Sans', sans-serif" font-weight="700" font-size="12.8" fill="#111"><text x="276.6" y="227.2" text-anchor="middle">292</text><text x="327.8" y="227.2" text-anchor="middle">290</text><text x="379.0" y="227.2" text-anchor="middle">288</text><text x="430.2" y="227.2" text-anchor="middle">286</text><text x="481.4" y="227.2" text-anchor="middle">284</text><text x="532.6" y="227.2" text-anchor="middle">282</text></g>
<text x="340.4" y="241.4" font-family="'Noto Sans CJK SC', 'Liberation Sans', sans-serif" font-weight="700" font-size="14" fill="#111" textLength="125" lengthAdjust="spacingAndGlyphs">Binding Energy/eV</text>
</svg>
</body></html>
